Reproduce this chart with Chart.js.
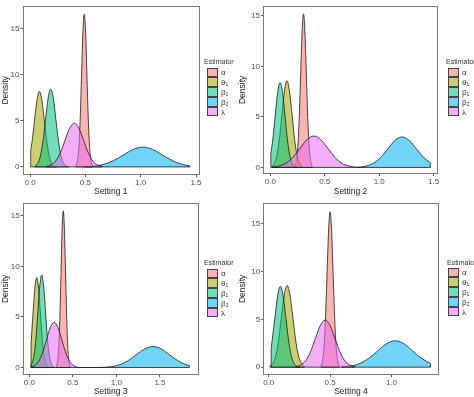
<!DOCTYPE html>
<html>
<head>
<meta charset="utf-8">
<script src="https://cdn.jsdelivr.net/npm/chart.js@4/dist/chart.umd.min.js"></script>
<style>
body{margin:0;background:#fff;width:474px;height:397px;position:relative;overflow:hidden;font-family:"Liberation Sans",Arial,sans-serif}
canvas{position:absolute}
.lt{position:absolute;font-size:7px;line-height:8px;color:#333;white-space:nowrap}
.lk{position:absolute}
.it{display:flex;align-items:center;height:9.8px}
.ky{width:11px;height:9.8px;box-sizing:border-box;border:1px solid #444;margin-right:3px;margin-top:-1px}
.lb{font-size:8px;color:#333;line-height:9px}
</style>
</head>
<body>
<canvas id="c1" width="237" height="197" style="left:0;top:0"></canvas>
<canvas id="c2" width="237" height="197" style="left:237px;top:0"></canvas>
<canvas id="c3" width="237" height="200" style="left:0;top:197px"></canvas>
<canvas id="c4" width="237" height="200" style="left:237px;top:197px"></canvas>
<script>
'use strict';
// ---- data (density curves: [x, density]) ----
var estimators=['α','θ₁','β₁','β₂','λ'];
var settingTitles=['Setting 1','Setting 2','Setting 3','Setting 4'];
var legendTitle='Estimator';
var yTicks=[0,5,10,15];
var xTicksA=[0,0.5,1,1.5];
var xTicksB=[0,0.5,1];

var s1Alpha=[[0.418,0.18],[0.43,0.73],[0.442,2.25],[0.454,5.39],[0.466,10.07],[0.478,14.65],[0.49,16.6],[0.502,14.65],[0.514,10.07],[0.526,5.39],[0.538,2.25],[0.55,0.73],[0.562,0.18]];
var s1Theta=[[0.006,1.76],[0.0175,2.66],[0.04,4.97],[0.0625,7.24],[0.085,8.2],[0.1075,7.24],[0.13,4.97],[0.1525,2.66],[0.175,1.11],[0.1975,0.36],[0.22,0.09],[0.24,0.02]];
var s1Beta1=[[0.046,0.09],[0.0695,0.37],[0.093,1.14],[0.1165,2.74],[0.14,5.13],[0.1635,7.46],[0.187,8.45],[0.2105,7.46],[0.234,5.13],[0.2575,2.74],[0.281,1.14],[0.3045,0.37],[0.328,0.09],[0.35,0.02]];
var s1Beta2=[[0.495,0.02],[0.5825,0.09],[0.67,0.29],[0.7575,0.7],[0.845,1.3],[0.9325,1.9],[1.02,2.15],[1.1075,1.9],[1.195,1.3],[1.2825,0.7],[1.37,0.29],[1.445,0.11]];
var s1Lambda=[[0.148,0.05],[0.19,0.21],[0.232,0.64],[0.274,1.54],[0.316,2.88],[0.358,4.19],[0.4,4.75],[0.442,4.19],[0.484,2.88],[0.526,1.54],[0.568,0.64],[0.61,0.21],[0.652,0.05]];

var s2Alpha=[[0.227,0.17],[0.24,0.67],[0.253,2.06],[0.266,4.94],[0.279,9.22],[0.292,13.41],[0.305,15.2],[0.318,13.41],[0.331,9.22],[0.344,4.94],[0.357,2.06],[0.37,0.67],[0.383,0.17]];
var s2Theta=[[0.014,0.1],[0.037,0.38],[0.06,1.16],[0.083,2.79],[0.107,5.2],[0.13,7.57],[0.153,8.58],[0.176,7.57],[0.2,5.2],[0.223,2.79],[0.246,1.16],[0.269,0.38],[0.292,0.1]];
var s2Beta1=[[0.005,1.42],[0.0225,2.73],[0.045,5.09],[0.0675,7.41],[0.09,8.4],[0.1125,7.41],[0.135,5.09],[0.1575,2.73],[0.18,1.14],[0.2025,0.37],[0.225,0.09],[0.245,0.02]];
var s2Beta2=[[0.814,0.03],[0.88,0.13],[0.946,0.41],[1.012,0.98],[1.078,1.83],[1.144,2.67],[1.21,3.02],[1.276,2.67],[1.342,1.83],[1.408,0.98],[1.47,0.45]];
var s2Lambda=[[0.016,0.03],[0.08,0.14],[0.144,0.42],[0.208,1.01],[0.272,1.89],[0.336,2.74],[0.4,3.11],[0.464,2.74],[0.528,1.89],[0.592,1.01],[0.656,0.42],[0.72,0.14],[0.784,0.03],[0.82,0.01]];

var s3Alpha=[[0.313,0.17],[0.326,0.68],[0.339,2.1],[0.351,5.03],[0.364,9.4],[0.377,13.68],[0.39,15.5],[0.403,13.68],[0.416,9.4],[0.429,5.03],[0.441,2.1],[0.454,0.68],[0.467,0.17]];
var s3Theta=[[0.02,2.34],[0.043,5.4],[0.064,7.85],[0.085,8.9],[0.106,7.85],[0.127,5.4],[0.148,2.89],[0.169,1.2],[0.19,0.39],[0.211,0.1],[0.23,0.02]];
var s3Beta1=[[0.02,0.18],[0.055,1.24],[0.077,2.97],[0.098,5.55],[0.12,8.07],[0.142,9.15],[0.164,8.07],[0.186,5.55],[0.207,2.97],[0.229,1.24],[0.251,0.4],[0.273,0.1],[0.29,0.03]];
var s3Beta2=[[0.55,0.0],[0.7,0.0],[0.85,0.02],[0.945,0.09],[1.04,0.28],[1.135,0.68],[1.23,1.26],[1.325,1.84],[1.42,2.08],[1.515,1.84],[1.61,1.26],[1.705,0.68],[1.8,0.28],[1.84,0.18]];
var s3Lambda=[[0.02,0.06],[0.063,0.2],[0.107,0.6],[0.152,1.45],[0.196,2.71],[0.241,3.94],[0.285,4.47],[0.33,3.94],[0.374,2.71],[0.419,1.45],[0.463,0.6],[0.508,0.2],[0.552,0.05]];

var s4Alpha=[[0.4265,0.18],[0.439,0.71],[0.451,2.2],[0.463,5.28],[0.4755,9.87],[0.488,14.36],[0.5,16.27],[0.512,14.36],[0.5245,9.87],[0.537,5.28],[0.549,2.2],[0.561,0.71],[0.5735,0.18]];
var s4Theta=[[0.01,0.09],[0.033,0.38],[0.057,1.16],[0.08,2.78],[0.103,5.19],[0.127,7.55],[0.15,8.55],[0.173,7.55],[0.197,5.19],[0.22,2.78],[0.243,1.16],[0.267,0.38],[0.29,0.09]];
var s4Beta1=[[0.02,2.0],[0.0275,2.74],[0.05,5.13],[0.0725,7.46],[0.095,8.45],[0.1175,7.46],[0.14,5.13],[0.1625,2.74],[0.185,1.14],[0.2075,0.37],[0.23,0.09],[0.25,0.02]];
var s4Beta2=[[0.595,0.03],[0.668,0.12],[0.74,0.37],[0.813,0.9],[0.885,1.67],[0.958,2.44],[1.03,2.76],[1.103,2.44],[1.175,1.67],[1.248,0.9],[1.318,0.39]];
var s4Lambda=[[0.22,0.05],[0.26,0.22],[0.3,0.67],[0.34,1.6],[0.38,2.99],[0.42,4.35],[0.46,4.93],[0.5,4.35],[0.54,2.99],[0.58,1.6],[0.62,0.67],[0.66,0.22],[0.7,0.05]];

// ---- styles / layout ----
var fills=['rgba(248,118,109,.55)','rgba(163,165,0,.55)','rgba(0,191,125,.55)','rgba(0,176,246,.55)','rgba(231,107,243,.55)'];

var PANELS=[
  {id:'c1',w:237,h:197,L:22.5,R:199,T:1,B:175,xmin:-0.068,xmax:1.527,ymin:-0.88,ymax:17.5,xt:xTicksA,
   curves:[s1Alpha,s1Theta,s1Beta1,s1Beta2,s1Lambda],title:settingTitles[0],leg:{tx:204,ty:58,kx:207,ky:68}},
  {id:'c2',w:237,h:197,L:26,R:201,T:1,B:174,xmin:-0.067,xmax:1.54,ymin:-0.65,ymax:16.0,xt:xTicksA,
   curves:[s2Alpha,s2Theta,s2Beta1,s2Beta2,s2Lambda],title:settingTitles[1],leg:{tx:446,ty:58,kx:448,ky:68}},
  {id:'c3',w:237,h:200,L:22.7,R:198.7,T:4.5,B:178,xmin:-0.076,xmax:1.945,ymin:-0.74,ymax:16.3,xt:xTicksA,
   curves:[s3Alpha,s3Theta,s3Beta1,s3Beta2,s3Lambda],title:settingTitles[2],leg:{tx:204,ty:259,kx:207,ky:269}},
  {id:'c4',w:237,h:200,L:26.2,R:201.7,T:4,B:178,xmin:-0.045,xmax:1.385,ymin:-0.82,ymax:17.2,xt:xTicksB,
   curves:[s4Alpha,s4Theta,s4Beta1,s4Beta2,s4Lambda],title:settingTitles[3],leg:{tx:447,ty:259,kx:448,ky:268}}
];

// closes each density polygon (vertical ends + baseline), like ggplot's full outline
var closeOutline={id:'closeOutline',afterDatasetDraw:function(chart,args){
  var pts=args.meta.data;if(!pts||!pts.length)return;
  var c=chart.ctx,y0=chart.scales.y.getPixelForValue(0);
  var a=pts[0],b=pts[pts.length-1];
  c.save();c.beginPath();
  c.moveTo(b.x,b.y);c.lineTo(b.x,y0);c.lineTo(a.x,y0);c.lineTo(a.x,a.y);
  c.strokeStyle='#1a1a1a';c.lineWidth=0.8;c.stroke();c.restore();
}};
var panelBox={id:'panelBox',afterDraw:function(chart){
  var a=chart.chartArea,c=chart.ctx;
  c.save();c.strokeStyle='#7a7a7a';c.lineWidth=1;
  c.strokeRect(Math.round(a.left)+0.5,Math.round(a.top)+0.5,Math.round(a.width)-1,Math.round(a.height)-1);
  c.restore();
}};

function makePanel(p){
  var ds=[];
  for(var i=0;i<estimators.length;i++){
    ds.push({label:estimators[i],data:p.curves[i].map(function(q){return {x:q[0],y:q[1]};}),
      fill:'origin',backgroundColor:fills[i],borderColor:'#1a1a1a',borderWidth:0.8,
      pointRadius:0,cubicInterpolationMode:'monotone',order:estimators.length-i});
  }
  new Chart(document.getElementById(p.id),{type:'line',data:{datasets:ds},plugins:[closeOutline,panelBox],
    options:{responsive:false,animation:false,devicePixelRatio:1,
      layout:{padding:{left:0,right:p.w-p.R,top:p.T,bottom:0}},
      plugins:{legend:{display:false},tooltip:{enabled:false}},
      scales:{
        x:{type:'linear',min:p.xmin,max:p.xmax,
          afterBuildTicks:function(s){s.ticks=p.xt.map(function(v){return {value:v};});},
          afterFit:function(s){s.height=p.h-p.B;},
          ticks:{callback:function(v){return v.toFixed(1);},color:'#4d4d4d',font:{size:8,family:'"Liberation Sans",Arial'},padding:1,maxRotation:0,autoSkip:false},
          grid:{drawOnChartArea:false,tickLength:2,color:'#555'},border:{display:false},
          title:{display:true,text:p.title,color:'#1a1a1a',font:{size:8.5,family:'"Liberation Sans",Arial'},padding:0}},
        y:{type:'linear',min:p.ymin,max:p.ymax,
          afterBuildTicks:function(s){s.ticks=yTicks.map(function(v){return {value:v};});},
          afterFit:function(s){s.width=p.L;},
          ticks:{callback:function(v){return String(v);},color:'#4d4d4d',font:{size:8,family:'"Liberation Sans",Arial'},padding:1},
          grid:{drawOnChartArea:false,tickLength:2,color:'#555'},border:{display:false},
          title:{display:true,text:'Density',color:'#1a1a1a',font:{size:8.5,family:'"Liberation Sans",Arial'},padding:{top:1,bottom:0}}}
      }}});
  // legend
  var t=document.createElement('div');t.className='lt';t.textContent=legendTitle;
  t.style.left=p.leg.tx+'px';t.style.top=p.leg.ty+'px';document.body.appendChild(t);
  var k=document.createElement('div');k.className='lk';k.style.left=p.leg.kx+'px';k.style.top=p.leg.ky+'px';
  for(var j=0;j<estimators.length;j++){
    var it=document.createElement('div');it.className='it';
    var b=document.createElement('div');b.className='ky';b.style.background=fills[j];
    var l=document.createElement('span');l.className='lb';l.textContent=estimators[j];
    it.appendChild(b);it.appendChild(l);k.appendChild(it);
  }
  document.body.appendChild(k);
}
PANELS.forEach(makePanel);
</script>
</body>
</html>
